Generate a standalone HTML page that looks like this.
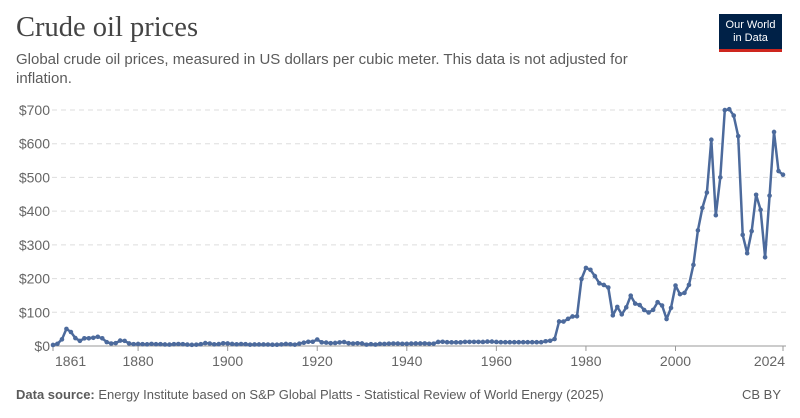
<!DOCTYPE html>
<html><head><meta charset="utf-8"><style>
body{margin:0;width:800px;height:418px;background:#fff;font-family:"Liberation Sans",sans-serif;overflow:hidden;position:relative}
.t{position:absolute}
</style></head><body>
<div class="t" style="left:16px;top:12px;font-family:'Liberation Serif',serif;font-size:28.5px;color:#444">Crude oil prices</div>
<div class="t" style="left:16px;top:50px;width:650px;font-size:15px;line-height:19px;color:#5b5b5b">Global crude oil prices, measured in US dollars per cubic meter. This data is not adjusted for inflation.</div>
<div class="t" style="left:719px;top:14px;width:63px;height:38px;background:#002147;border-bottom:3px solid #ce261e;color:#fff;font-size:11px;line-height:13px;text-align:center;padding-top:5px;box-sizing:border-box">Our World<br>in Data</div>
<svg class="t" style="left:0;top:0" width="800" height="418"><g id="g"></g></svg>
<div class="t" style="left:16px;top:387px;font-size:13px;color:#5b5b5b"><b>Data source:</b> Energy Institute based on S&amp;P Global Platts - Statistical Review of World Energy (2025)</div>
<div class="t" style="right:19px;top:387px;font-size:13px;color:#5b5b5b">CB BY</div>
<script>
const startYear=1861;
const prices=[3.1,6.6,19.8,50.7,41.5,23.5,15.2,22.8,22.9,24.3,27.3,22.9,11.5,7.4,8.5,16.1,15.2,7.5,5.4,6.0,5.4,4.9,6.3,5.3,5.5,4.5,4.2,5.5,5.9,5.5,4.2,3.5,4.0,5.3,8.6,7.4,5.0,5.7,8.1,7.5,6.0,5.0,5.9,5.4,3.9,4.6,4.5,4.5,4.4,3.8,3.8,4.7,6.0,5.1,4.0,6.9,9.8,12.5,12.6,19.3,10.9,10.1,8.4,9.0,10.6,11.8,8.2,7.4,8.0,7.5,4.1,5.5,4.2,6.3,6.1,6.9,7.4,7.1,6.4,6.4,7.2,7.5,7.5,7.6,6.6,7.0,12.0,12.5,11.2,10.8,10.8,10.8,12.1,12.1,12.1,12.1,12.0,13.1,13.1,12.0,11.3,11.3,11.3,11.3,11.3,11.3,11.3,11.3,11.3,11.3,14.1,15.6,20.7,72.8,72.5,80.5,87.6,88.2,198.8,231.7,226.0,207.4,185.9,181.0,173.4,90.8,116.0,93.8,114.7,149.3,125.8,121.5,106.7,99.5,107.1,130.0,120.1,80.0,113.0,179.3,153.7,157.4,181.3,240.7,342.9,409.7,455.3,611.8,387.9,500.1,699.8,702.4,683.5,622.4,329.5,275.1,340.9,448.5,403.9,263.2,446.0,634.9,518.9,508.0];
const yTicks=[0,100,200,300,400,500,600,700];
const yTickLabels=["$0","$100","$200","$300","$400","$500","$600","$700"];
const xTicks=[1861,1880,1900,1920,1940,1960,1980,2000,2024];
const NS="http://www.w3.org/2000/svg",g=document.getElementById('g');
const x=yr=>53+(yr-1861)*(730/163), y=v=>346-v*(236/700);
function el(t,a){const e=document.createElementNS(NS,t);for(const k in a)e.setAttribute(k,a[k]);g.appendChild(e);return e;}
yTicks.forEach((v,i)=>{
 const l=el('line',{x1:52,x2:786,y1:y(v),y2:y(v),stroke:v?'#ddd':'#999','stroke-dasharray':v?'5,4':'none'});
 
 
 const t=el('text',{x:50,y:y(v)+5,'text-anchor':'end','font-size':14,fill:'#666','font-family':'Liberation Sans,sans-serif'});t.textContent=yTickLabels[i];
 
 
});
xTicks.forEach((yr,i)=>{
 const anchor=i==0?'start':i==xTicks.length-1?'end':'middle';
 const tx=i==0?x(yr)+2:i==xTicks.length-1?x(yr)+2:x(yr);
 el('line',{x1:x(yr),x2:x(yr),y1:346,y2:351,stroke:'#999'});
 const t=el('text',{x:tx,y:366,'text-anchor':anchor,'font-size':14,fill:'#666','font-family':'Liberation Sans,sans-serif'});t.textContent=yr;
 
 
});
const pts=prices.map((v,i)=>x(startYear+i).toFixed(1)+','+y(v).toFixed(1)).join(' ');
const pl=el('polyline',{points:pts,fill:'none',stroke:'#4c6a9c','stroke-width':2.5,'stroke-linejoin':'round'});


prices.forEach((v,i)=>{
 const c=el('circle',{cx:x(startYear+i),cy:y(v),r:2.3,fill:'#4c6a9c'});
 
 
});
</script>
</body></html>
